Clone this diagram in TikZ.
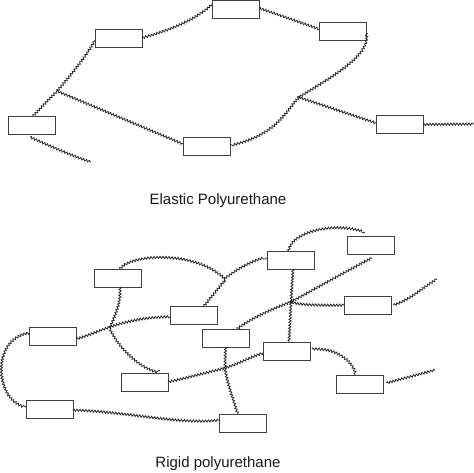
\documentclass[tikz,border=0pt]{standalone}
\usepackage{fontspec}
\setmainfont{Liberation Sans}
\usetikzlibrary{decorations.pathmorphing,calc}
\begin{document}
\begin{tikzpicture}[x=1pt,y=-1pt,
 box/.style={draw=black!75, line width=0.9pt, fill=white, minimum width=47pt, minimum height=18pt, inner sep=0pt, outer sep=0pt},
 chain/.style={draw=black!85, line width=0.8pt, decorate, decoration={snake, amplitude=1.1pt, segment length=3pt}},
 lbl/.style={font=\fontsize{15}{18}\selectfont, inner sep=0pt, text=black!90}]
\useasboundingbox (0,0) rectangle (474,473);
% ---------- Elastic ----------
\node[box] (B1) at (118.5,38) {};
\node[box] (B2) at (235.5,9) {};
\node[box] (B3) at (342.5,31) {};
\node[box] (B4) at (31.5,125) {};
\node[box] (B5) at (206.5,146) {};
\node[box] (B6) at (399.5,124.5) {};
\coordinate (J1) at (57,91);
\coordinate (J2) at (298,97);
\coordinate (E1) at (474,124);
\coordinate (F1) at (30,137);
\coordinate (F2) at (91,162);
\draw[chain] ([xshift=1.5pt]B4.north) -- (J1);
\draw[chain] (J1) .. controls (72,74) and (86,56) .. ([yshift=-2pt]B1.west);
\draw[chain] (J1) -- ([yshift=2pt]B5.west);
\draw[chain] (B1.east) .. controls (170,30) and (195,20) .. ([yshift=5pt]B2.west);
\draw[chain] ([yshift=1pt]B2.east) -- ([yshift=2pt]B3.west);
\draw[chain] ([yshift=-2pt]B3.east) .. controls (372,55) and (325,80) .. (J2)
   .. controls (285,112) and (275,135) .. ([yshift=1pt]B5.east);
\draw[chain] (J2) -- ([yshift=1.5pt]B6.west);
\draw[chain] (B6.east) -- (E1);
\draw[chain] (F1) .. controls (50,146) and (70,155) .. (F2);
\node[lbl] (L1) at (218,201) {Elastic Polyurethane};
% ---------- Rigid ----------
\node[box] (R1) at (118,278) {};
\node[box] (R2) at (371,245) {};
\node[box] (R3) at (290.5,260) {};
\node[box] (R4) at (368,305) {};
\node[box] (R5) at (194,315) {};
\node[box] (R6) at (53,336.5) {};
\node[box] (R7) at (225.5,338) {};
\node[box] (R8) at (286.5,351) {};
\node[box] (R9) at (144.5,382) {};
\node[box] (R10) at (360,384) {};
\node[box] (R11) at (49.5,409) {};
\node[box] (R12) at (243,423) {};
\coordinate (K1) at (225,280);
\coordinate (K2) at (291,302);
\coordinate (K3) at (225,368);
\coordinate (J3) at (110,327);
\coordinate (G1) at (365,233);
\coordinate (G2) at (372,258);
\coordinate (G3) at (437,279);
\coordinate (G4) at (435,370);
\draw[chain] ([xshift=2pt]R1.north) .. controls (130,255) and (195,250) .. (K1)
   .. controls (238,270) and (252,262) .. ([yshift=2pt]R3.west);
\draw[chain] (K1) -- ([xshift=10pt]R5.north);
\draw[chain] ([xshift=-2pt]R3.north) .. controls (292,232) and (335,222) .. (G1);
\draw[chain] ([xshift=2.5pt]R3.south) -- (K2) -- ([xshift=2.5pt]R8.north);
\draw[chain] ([xshift=11.5pt]R7.north) .. controls (252,318) and (270,310) .. (K2)
   .. controls (315,289) and (345,272) .. (G2);
\draw[chain] (K2) .. controls (300,305) and (320,305) .. (R4.west);
\draw[chain] ([xshift=2pt]R4.east) .. controls (410,300) and (425,285) .. (G3);
\draw[chain] ([xshift=2pt]R1.south) .. controls (121,305) and (113,318) .. (J3)
   .. controls (118,345) and (140,368) .. ([xshift=15.5pt,yshift=2pt]R9.north);
\draw[chain] ([yshift=-2.5pt]R6.east) .. controls (90,335) and (100,330) .. (J3)
   .. controls (130,320) and (150,317) .. ([yshift=-2pt]R5.west);
\draw[chain] ([yshift=3.5pt]R6.west) .. controls (-8,338) and (-5,400) .. ([yshift=2pt]R11.west);
\draw[chain] ([yshift=-1pt]R11.east) .. controls (130,412) and (180,425) .. ([yshift=3pt]R12.west);
\draw[chain] (R7.south) -- (K3) .. controls (228,385) and (234,400) .. ([xshift=-5pt]R12.north);
\draw[chain] (R9.east) .. controls (190,377) and (205,373) .. (K3)
   .. controls (240,363) and (250,357) .. ([yshift=-2pt]R8.west);
\draw[chain] ([xshift=2pt,yshift=2pt]R8.east) .. controls (335,348) and (352,360) .. ([xshift=-5pt]R10.north);
\draw[chain] ([xshift=3pt,yshift=1pt]R10.east) .. controls (405,378) and (420,374) .. (G4);
\node[lbl] (L2) at (218,464) {Rigid polyurethane};
\end{tikzpicture}
\end{document}
